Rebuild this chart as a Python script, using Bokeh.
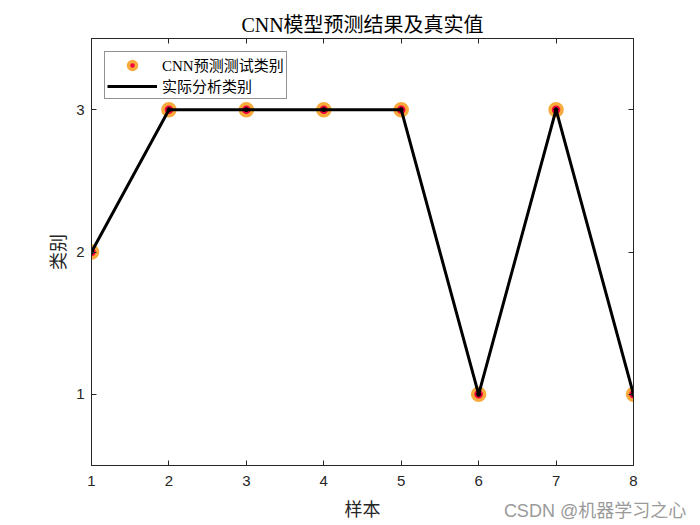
from bokeh.models import ColumnDataSource, LinearAxis, Label, FixedTicker, Legend, LegendItem
from bokeh.models import CustomJSTickFormatter
from bokeh.plotting import figure
from bokeh.embed import file_html
from bokeh.resources import INLINE

samples = [1, 2, 3, 4, 5, 6, 7, 8]
predicted = [2, 3, 3, 3, 3, 1, 3, 1]
actual = [2, 3, 3, 3, 3, 1, 3, 1]

SERIF = "'Times New Roman', 'Liberation Serif', 'Noto Sans CJK SC'"
SANS = "Arial, 'Liberation Sans', 'Noto Sans CJK SC'"
CJK = "'Noto Sans CJK SC'"
INK = "#262626"

source = ColumnDataSource(dict(x=samples, pred=predicted, real=actual))

p = figure(frame_width=542, frame_height=427,
           x_range=(1, 8), y_range=(0.5, 3.5),
           output_backend="svg", toolbar_location=None, tools="",
           min_border_left=91, min_border_right=67,
           min_border_top=38, min_border_bottom=59)

p.title.text = "CNN模型预测结果及真实值"
p.title.align = "center"
p.title.text_font = SERIF
p.title.text_font_size = "20px"
p.title.text_font_style = "normal"
p.title.text_color = "black"
p.title.standoff = 6

p.xgrid.grid_line_color = None
p.ygrid.grid_line_color = None
p.outline_line_color = INK
p.outline_line_width = 1

# scatter first so the black line sits on top
r_pred = p.scatter('x', 'pred', source=source, size=12, line_width=3.5,
                   line_color="#F8AB3C", fill_color="#F2003C")
r_line = p.line('x', 'real', source=source, line_width=3, line_color="black")
p.scatter('x', 'real', source=source, size=4, line_color="black",
          fill_color="black")

ticks_x = FixedTicker(ticks=samples)
ticks_y = FixedTicker(ticks=[1, 2, 3])

for ax, tk in ((p.xaxis[0], ticks_x), (p.yaxis[0], ticks_y)):
    ax.ticker = tk
    ax.major_tick_in = 5
    ax.major_tick_out = 0
    ax.minor_tick_line_color = None
    ax.axis_line_color = INK
    ax.major_tick_line_color = INK
    ax.major_label_text_font = SANS
    ax.major_label_text_font_size = "15px"
    ax.major_label_text_color = INK
    ax.axis_label_text_font = CJK
    ax.axis_label_text_font_size = "18px"
    ax.axis_label_text_font_style = "normal"
    ax.axis_label_text_color = INK

p.xaxis.axis_label = "样本"
p.xaxis.major_label_standoff = 10
p.xaxis.axis_label_standoff = 6
p.yaxis.axis_label = "类别"
p.yaxis.major_label_standoff = 7
p.yaxis.axis_label_standoff = 3

blank = CustomJSTickFormatter(code="return ''")
for loc, tk in (("above", ticks_x), ("right", ticks_y)):
    ax = LinearAxis(ticker=tk, formatter=blank, major_tick_in=5, major_tick_out=0,
                    minor_tick_line_color=None, axis_line_color=INK,
                    major_tick_line_color=INK, major_label_standoff=0)
    p.add_layout(ax, loc)

legend = Legend(items=[
    LegendItem(label="CNN预测测试类别", renderers=[r_pred]),
    LegendItem(label="实际分析类别", renderers=[r_line]),
], location="top_left")
legend.margin = 13
legend.padding = 2
legend.spacing = 0
legend.glyph_width = 50
legend.glyph_height = 20
legend.label_height = 20
legend.label_standoff = 5
legend.label_text_font = SERIF
legend.label_text_font_size = "15px"
legend.label_text_color = "black"
legend.border_line_color = INK
legend.border_line_width = 1
legend.background_fill_alpha = 1
p.add_layout(legend)

# watermark sits outside the frame, so it goes into a side panel (not clipped)
p.add_layout(Label(x=8.68, y=0.18, text="CSDN @机器学习之心",
                   text_align="right", text_baseline="middle",
                   text_font=SANS, text_font_size="18px",
                   text_color="#9a9a9a"), "below")

open("out.html", "w").write(file_html(p, INLINE))
